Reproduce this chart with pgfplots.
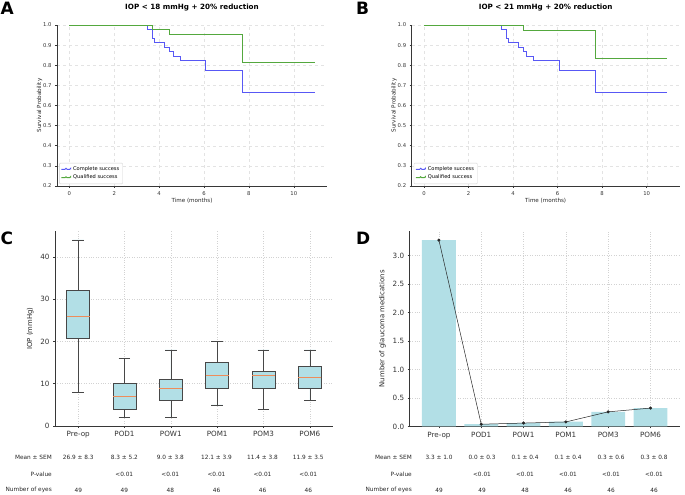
\documentclass[border=0pt]{standalone}
\usepackage{fontspec}
\setmainfont{DejaVu Sans}
\usepackage{pgfplots}
\pgfplotsset{compat=1.18}
\usepgfplotslibrary{statistics}

\definecolor{kmblue}{RGB}{88,88,245}
\definecolor{kmgreen}{RGB}{84,168,62}
\definecolor{boxfill}{RGB}{178,223,230}
\definecolor{medorange}{RGB}{238,140,90}
\definecolor{spine}{RGB}{55,55,55}

\newcommand{\fs}[1]{\fontsize{#1}{#1}\selectfont}

\pgfplotsset{
  panel/.style={
    scale only axis, anchor=south west,
    axis x line*=bottom, axis y line*=left,
    axis line style={spine, line width=0.6pt, -},
    tick align=outside, major tick length=2pt,
    tick style={spine, line width=0.5pt},
    ticklabel style={text=black!80},
    /pgf/number format/assume math mode=true,
    grid=major,
  },
  km/.style={panel,
    width=270pt, height=161pt,
    xmin=-0.55, xmax=11.48, ymin=0.2, ymax=1.0,
    xtick={0,2,4,6,8,10},
    ytick={0.2,0.3,0.4,0.5,0.6,0.7,0.8,0.9,1.0},
    yticklabel style={/pgf/number format/.cd, fixed, fixed zerofill, precision=1},
    ticklabel style={font=\fs{5.3}},
    label style={font=\fs{5.6}, text=black!85},
    xlabel style={yshift=4pt},
    ylabel style={yshift=-6pt},
    major grid style={dashed, gray!22, line width=0.4pt},
    xlabel={Time (months)}, ylabel={Survival Probability},
    title style={font=\bfseries\fs{7.2}, yshift=4pt},
    legend style={at={(0.008,0.012)}, anchor=south west, font=\fs{5.1},
      draw=gray!35, rounded corners=1pt, inner sep=1.5pt, row sep=-1pt},
    legend cell align=left,
    legend image post style={xscale=0.55},
  },
  bx/.style={panel,
    ticklabel style={font=\fs{7.2}},
    label style={font=\fs{6.9}, text=black!85},
    major grid style={dotted, gray!35, line width=0.4pt},
    xticklabels={Pre-op,POD1,POW1,POM1,POM3,POM6},
  },
  bxp/.style={fill=boxfill, draw=black!72, line width=0.6pt},
}

\begin{document}
\begin{tikzpicture}
\useasboundingbox (0pt,0pt) rectangle (685pt,495pt);

% ---- A ----
\begin{axis}[km, at={(57pt,309pt)}, title={IOP < 18 mmHg + 20\% reduction}]
\addplot[const plot, color=kmblue, line width=0.9pt] coordinates {
(0,1.0) (3.48,0.978) (3.70,0.933) (3.78,0.911) (4.25,0.889) (4.46,0.867)
(4.62,0.844) (4.93,0.822) (6.07,0.776) (7.70,0.665) (10.93,0.665)};
\addlegendentry{Complete success}
\addplot[const plot, color=kmgreen, line width=0.9pt] coordinates {
(0,1.0) (3.70,0.978) (4.46,0.953) (7.70,0.815) (10.93,0.815)};
\addlegendentry{Qualified success}
\end{axis}

% ---- B ----
\begin{axis}[km, at={(411.7pt,309pt)}, width=268pt, title={IOP < 21 mmHg + 20\% reduction}]
\addplot[const plot, color=kmblue, line width=0.9pt] coordinates {
(0,1.0) (3.48,0.978) (3.70,0.933) (3.78,0.911) (4.25,0.889) (4.46,0.867)
(4.62,0.844) (4.93,0.822) (6.07,0.776) (7.70,0.665) (10.93,0.665)};
\addlegendentry{Complete success}
\addplot[const plot, color=kmgreen, line width=0.9pt] coordinates {
(0,1.0) (4.47,0.975) (7.70,0.834) (10.93,0.834)};
\addlegendentry{Qualified success}
\end{axis}

% ---- C ----
\begin{axis}[bx, at={(55pt,69pt)}, width=278pt, height=195pt,
  xmin=0.5, xmax=6.5, ymin=0, ymax=46.1,
  xtick={1,2,3,4,5,6}, ytick={0,10,20,30,40},
  ylabel={IOP (mmHg)},
  boxplot/draw direction=y,
  boxplot/every median/.style={draw=medorange, line width=0.7pt},
  boxplot/box extend=0.5, boxplot/whisker extend=0.25]
\addplot[bxp, boxplot prepared={draw position=1, lower whisker=8, lower quartile=20.7,
  median=26, upper quartile=32, upper whisker=44}] coordinates {};
\addplot[bxp, boxplot prepared={draw position=2, lower whisker=2, lower quartile=4,
  median=7, upper quartile=10, upper whisker=16}] coordinates {};
\addplot[bxp, boxplot prepared={draw position=3, lower whisker=2, lower quartile=6,
  median=9, upper quartile=11, upper whisker=18}] coordinates {};
\addplot[bxp, boxplot prepared={draw position=4, lower whisker=5, lower quartile=9,
  median=12, upper quartile=15, upper whisker=20}] coordinates {};
\addplot[bxp, boxplot prepared={draw position=5, lower whisker=4, lower quartile=9,
  median=12, upper quartile=13, upper whisker=18}] coordinates {};
\addplot[bxp, boxplot prepared={draw position=6, lower whisker=6, lower quartile=9,
  median=11.5, upper quartile=14, upper whisker=18}] coordinates {};
\end{axis}

% ---- D ----
\begin{axis}[bx, at={(409.7pt,68.5pt)}, width=270pt, height=195.5pt,
  xmin=-0.69, xmax=5.69, ymin=0, ymax=3.43,
  xtick={0,1,2,3,4,5}, ytick={0,0.5,1.0,1.5,2.0,2.5,3.0},
  yticklabel style={/pgf/number format/.cd, fixed, fixed zerofill, precision=1},
  ylabel={Number of glaucoma medications}]
\addplot[ybar, bar width=0.8, fill=boxfill, draw=none] coordinates {
(0,3.27) (1,0.043) (2,0.06) (3,0.085) (4,0.257) (5,0.323)};
\addplot[black!85, line width=0.5pt, mark=*, mark size=1.3pt] coordinates {
(0,3.27) (1,0.04) (2,0.06) (3,0.08) (4,0.257) (5,0.323)};
\end{axis}

% panel letters
\begin{scope}[every node/.style={font=\bfseries\fs{17}, anchor=north west, inner sep=0pt}]
\node at (0.5pt,493pt) {A};
\node at (356pt,493pt) {B};
\node at (0.5pt,263.5pt) {C};
\node at (356pt,263.5pt) {D};
\end{scope}

% tables under C and D
\begin{scope}[every node/.style={font=\fs{5.8}, text=black!85, inner sep=0pt}]
\node[anchor=east] at (52pt,37.3pt) {Mean ± SEM};
\node[anchor=east] at (52pt,21pt) {P-value};
\node[anchor=east] at (52pt,5pt) {Number of eyes};
\foreach \x/\m/\p/\n in {78.3/26.9 ± 8.3//49, 124.3/8.3 ± 5.2/<0.01/49,
  170.3/9.0 ± 3.8/<0.01/48, 216.5/12.1 ± 3.9/<0.01/46,
  262.5/11.4 ± 3.8/<0.01/46, 308.3/11.9 ± 3.5/<0.01/46}{
  \node at (\x pt,37.3pt) {\m}; \node at (\x pt,21pt) {\p}; \node at (\x pt,5pt) {\n};}
\node[anchor=east] at (412pt,37.3pt) {Mean ± SEM};
\node[anchor=east] at (412pt,21pt) {P-value};
\node[anchor=east] at (412pt,5pt) {Number of eyes};
\foreach \x/\m/\p/\n in {439/3.3 ± 1.0//49, 482/0.0 ± 0.3/<0.01/49,
  525/0.1 ± 0.4/<0.01/48, 568/0.1 ± 0.4/<0.01/46,
  611/0.3 ± 0.6/<0.01/46, 654/0.3 ± 0.8/<0.01/46}{
  \node at (\x pt,37.3pt) {\m}; \node at (\x pt,21pt) {\p}; \node at (\x pt,5pt) {\n};}
\end{scope}
\end{tikzpicture}
\end{document}
